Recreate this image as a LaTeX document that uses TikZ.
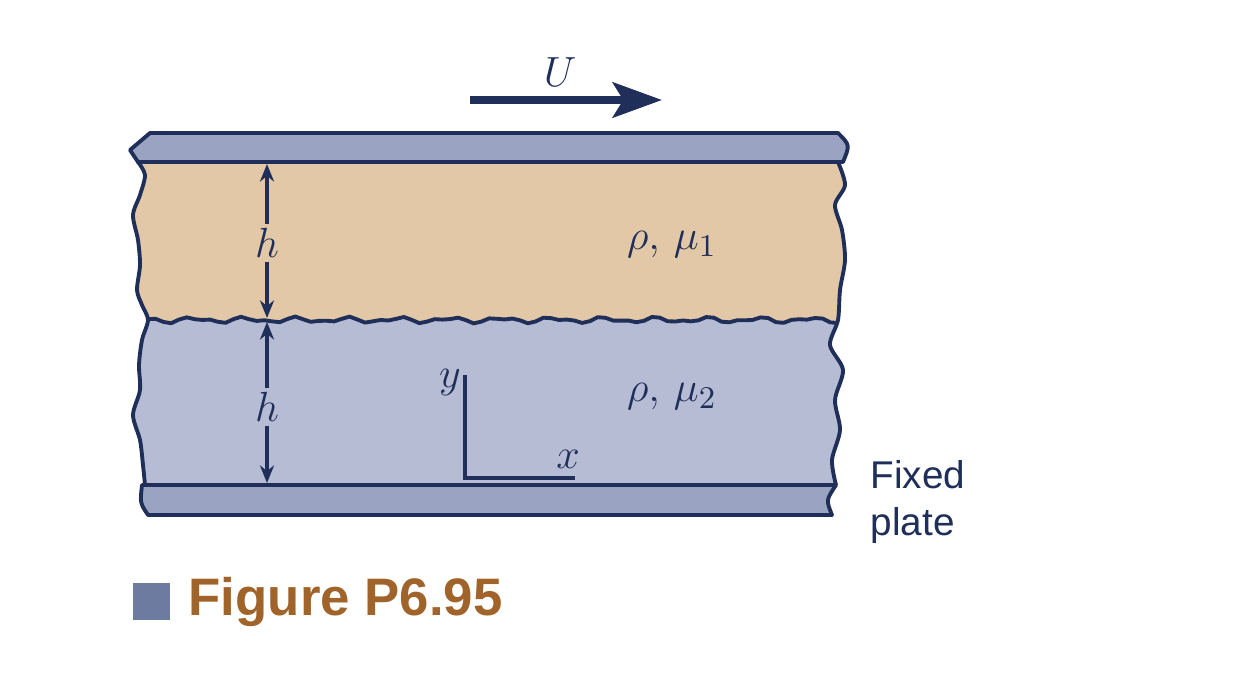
\documentclass[tikz,border=0pt]{standalone}
\usepackage{fontspec}
\usetikzlibrary{arrows.meta}
\newfontfamily\sansf{Liberation Sans}
\begin{document}
\begin{tikzpicture}[x=0.01cm,y=-0.01cm,
  edge/.style={draw=outl,line width=1.1pt,line join=round},
  dim/.style={draw=outl,line width=1pt},
  lab/.style={text=outl,font=\fontsize{13}{15}\selectfont}]
\definecolor{outl}{HTML}{1F2F5A}
\definecolor{plate}{HTML}{9AA3C2}
\definecolor{tan}{HTML}{E2C8A6}
\definecolor{lowb}{HTML}{B6BCD4}
\definecolor{capc}{HTML}{A0632A}
\definecolor{sq}{HTML}{6E7BA0}
\useasboundingbox (0,0) rectangle (1246,673);
% upper fluid
\fill[tan] plot[smooth] coordinates {(138,162)(145,175)(140,195)(133,215)(138,240)(140,265)(137,290)(142,305)(148,320)}
  -- plot[domain=148:838,samples=90] (\x,{320+2*sin(\x*7)+1.5*sin(\x*13+40)})
  -- plot[smooth] coordinates {(838,320)(840,290)(845,260)(842,230)(835,205)(845,185)(838,162)} -- cycle;
\fill[lowb] plot[smooth] coordinates {(148,320)(142,340)(139,365)(140,390)(133,415)(140,440)(143,465)(145,485)}
  -- (836,485) -- plot[smooth] coordinates {(836,485)(832,460)(840,430)(835,400)(843,370)(830,345)(838,320)}
  -- plot[domain=838:148,samples=90] (\x,{320+2*sin(\x*7)+1.5*sin(\x*13+40)}) -- cycle;
\draw[edge] plot[smooth] coordinates {(138,162)(145,175)(140,195)(133,215)(138,240)(140,265)(137,290)(142,305)(148,320)(142,340)(139,365)(140,390)(133,415)(140,440)(143,465)(145,485)};
\draw[edge] plot[smooth] coordinates {(838,162)(845,185)(835,205)(842,230)(845,260)(840,290)(838,320)(830,345)(843,370)(835,400)(840,430)(832,460)(836,485)};
\draw[edge] plot[domain=148:838,samples=90] (\x,{320+2*sin(\x*7)+1.5*sin(\x*13+40)});
% plates
\path[fill=plate,edge] (150,133) -- (838,133) .. controls (850,145) .. (843,162) -- (138,162) -- (130,150) -- cycle;
\path[fill=plate,edge] (142,485) -- (836,485) .. controls (826,500) .. (832,515) -- (148,515) .. controls (140,503) .. (142,485) -- cycle;
% dimension arrows
\node[lab,fill=tan,inner sep=1pt] (h1) at (267,243) {$h$};
\node[lab,fill=lowb,inner sep=1pt] (h2) at (267,407) {$h$};
\coordinate (a1) at (267,164); \coordinate (a2) at (267,318);
\coordinate (a3) at (267,322); \coordinate (a4) at (267,483);
\draw[dim,-{Stealth[length=5pt,width=4pt]}] (h1) -- (a1);
\draw[dim,-{Stealth[length=5pt,width=4pt]}] (h1) -- (a2);
\draw[dim,-{Stealth[length=5pt,width=4pt]}] (h2) -- (a3);
\draw[dim,-{Stealth[length=5pt,width=4pt]}] (h2) -- (a4);
% U arrow
\coordinate (u0) at (470,100); \coordinate (u1) at (662,100);
\draw[outl,line width=2.2pt,-{Stealth[length=14pt,width=10pt,inset=3pt]}] (u0) -- (u1);
\node[lab] (U) at (560,72) {$U$};
% labels
\node[lab] (m1) at (672,245) {$\rho,\,\mu_1$};
\node[lab] (m2) at (672,397) {$\rho,\,\mu_2$};
% axes
\coordinate (o) at (465,478); \coordinate (yy) at (465,375); \coordinate (xx) at (575,478);
\draw[outl,line width=1.1pt] (yy) -- (o) -- (xx);
\node[lab] (yl) at (450,383) {$y$};
\node[lab] (xl) at (568,459) {$x$};
% fixed plate
\node[text=outl,font=\sansf\fontsize{11}{13.5}\selectfont,align=left,anchor=west,inner sep=0pt] (fp) at (870,502) {Fixed\\plate};
% caption
\fill[sq] (133,583) rectangle (170,620);
\node[text=capc,font=\sansf\bfseries\fontsize{15}{18}\selectfont,anchor=west,inner sep=0pt] (cap) at (188,602) {Figure P6.95};
\end{tikzpicture}
\end{document}
